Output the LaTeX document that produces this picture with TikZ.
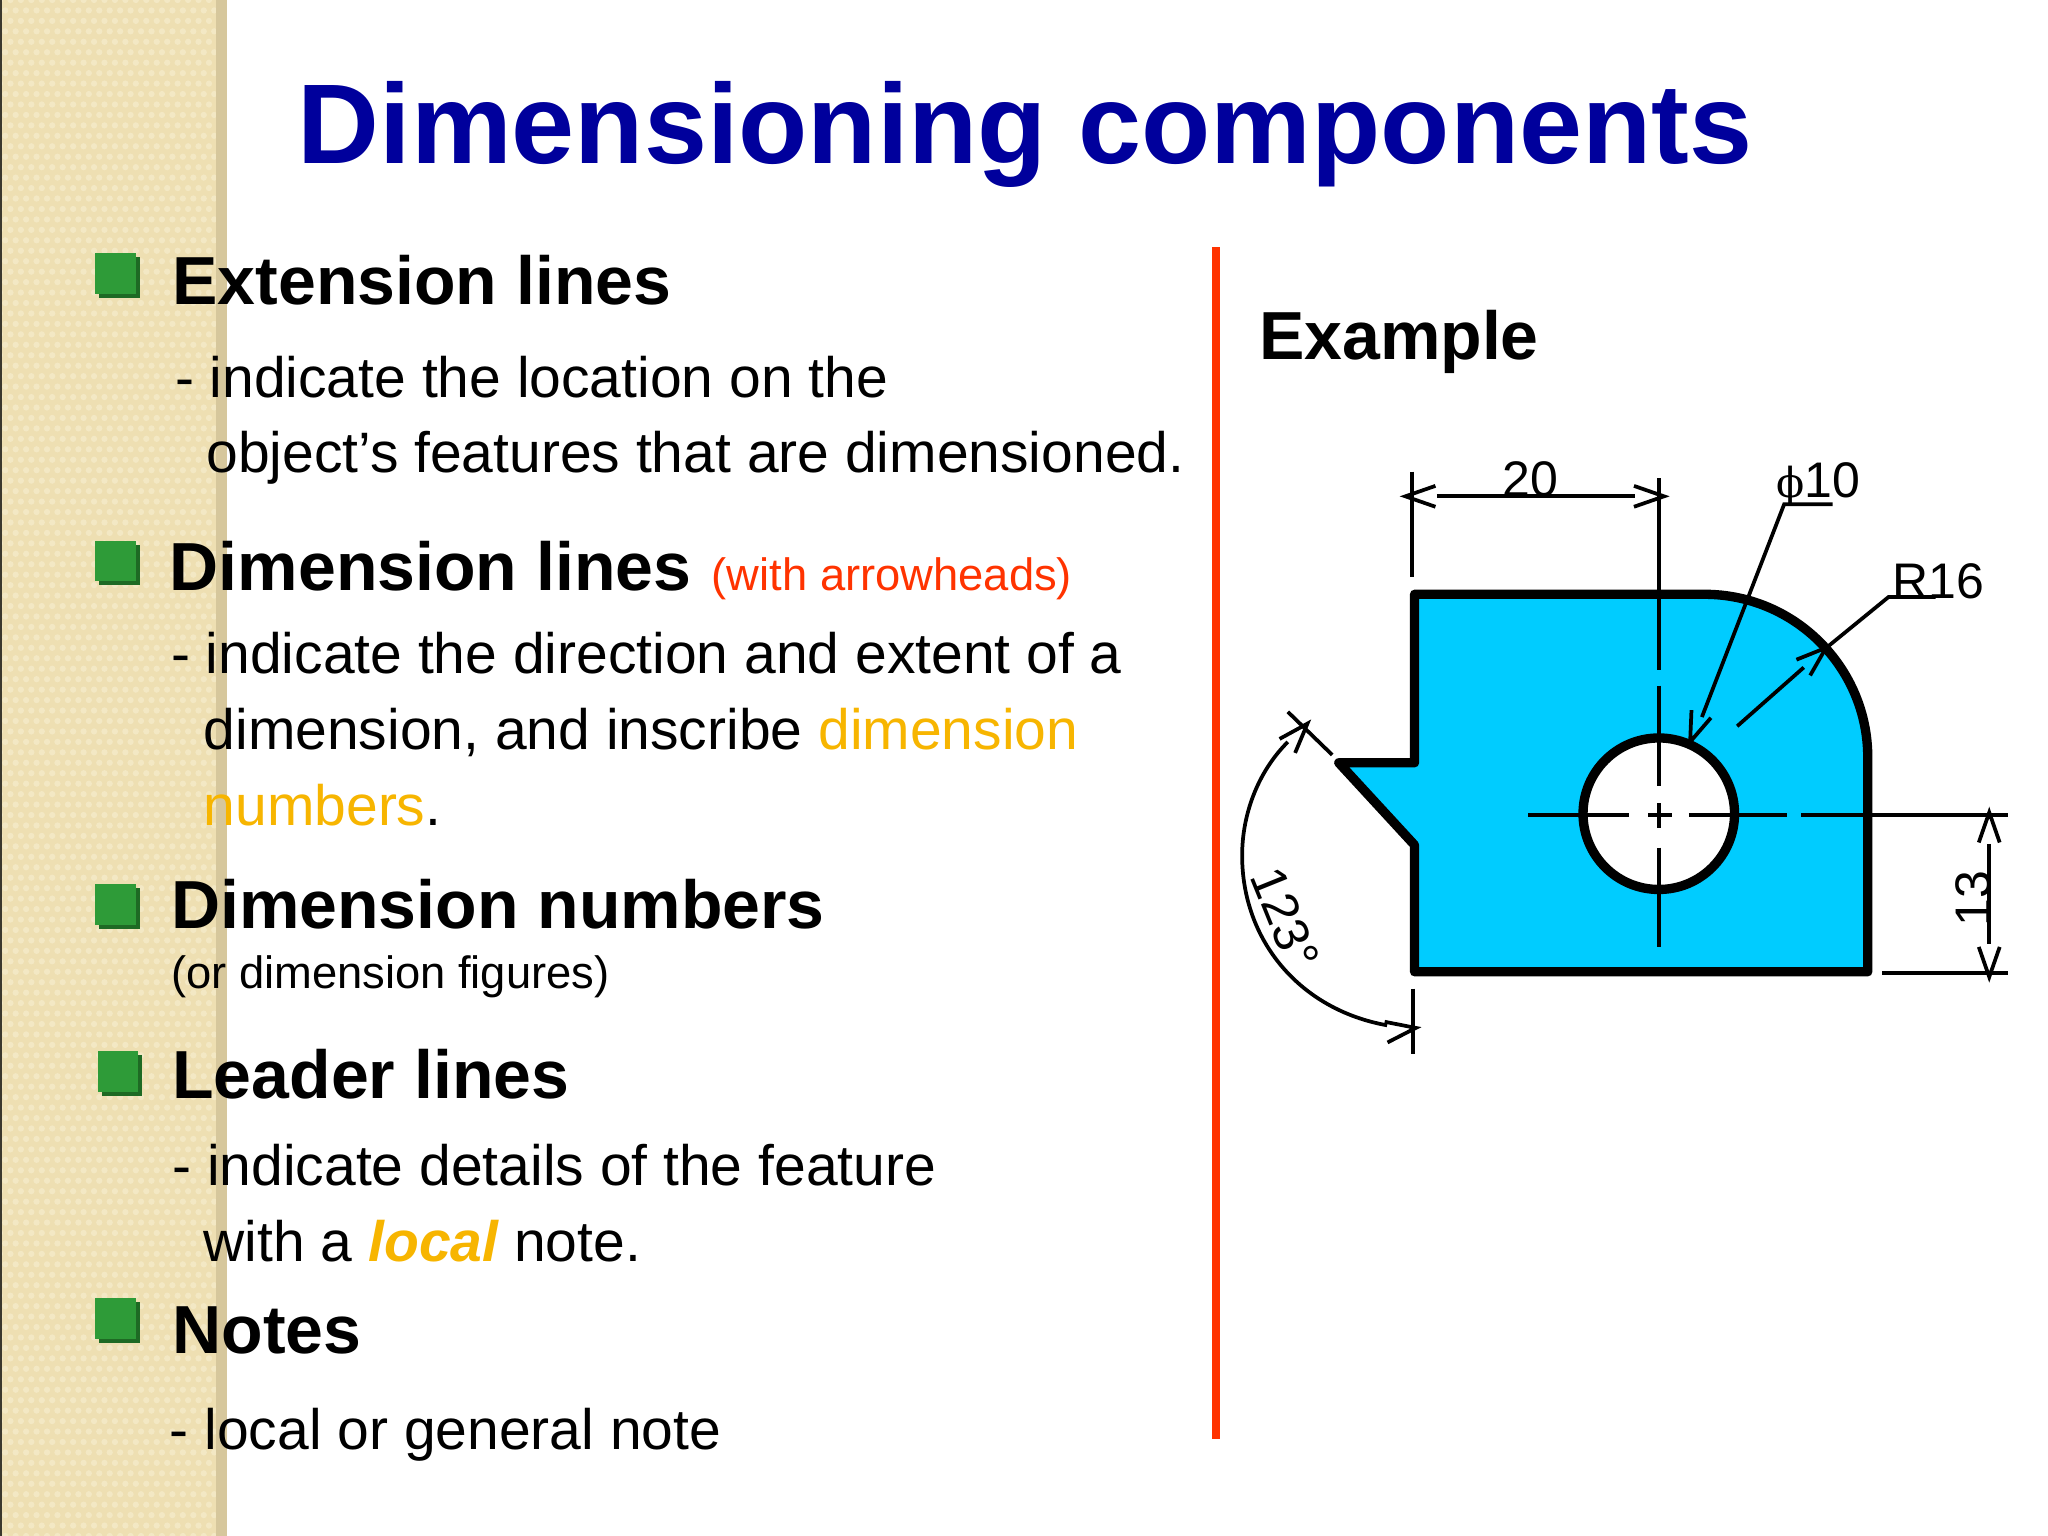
\documentclass[tikz,border=0pt]{standalone}
\usepackage{fontspec}
\setmainfont{Liberation Sans}
\definecolor{strip}{HTML}{EEDFB2}
\definecolor{stripdot}{HTML}{F3E8C4}
\definecolor{stripedge}{HTML}{D6C79C}
\definecolor{titleblue}{HTML}{00009C}
\definecolor{redline}{HTML}{FF3300}
\definecolor{amber}{HTML}{F7B500}
\definecolor{partblue}{HTML}{00CCFF}
\definecolor{bulletgreen}{HTML}{2E9B38}
\definecolor{bulletdark}{HTML}{1E6A24}
\newcommand{\headtxt}{\fontsize{51}{51}\selectfont\bfseries}
\newcommand{\bodytxt}{\fontsize{42.75}{43}\selectfont}
\newcommand{\smalltxt}{\fontsize{34}{35}\selectfont}
\newcommand{\dimtxt}{\fontsize{37.5}{38}\selectfont}
\newcommand{\barbs}[2]{\draw[dimline,shift={(#1)},rotate=#2] (-23,8) -- (0,0) -- (-23,-8);}
\newcommand{\gbullet}[2]{\fill[bulletdark] (#1+3,#2+3) rectangle (#1+34,#2+34);\fill[bulletgreen] (#1,#2) rectangle (#1+31,#2+31);}
\tikzset{
  txt/.style={anchor=base west,inner sep=0pt,outer sep=0pt,text=black},
  dimline/.style={draw=black,line width=2.8pt},
  centerline/.style={draw=black,line width=2.8pt},
  partedge/.style={draw=black,line width=7pt,line join=round,line cap=round}
}
\begin{document}
\begin{tikzpicture}[x=0.9796pt,y=-0.9796pt]
\useasboundingbox (0,0) rectangle (1568,1176);
\fill[white] (0,0) rectangle (1568,1176);
% left strip
\fill[strip] (0,0) rectangle (168,1176);
\begin{scope}
\clip (0,0) rectangle (168,1176);
\foreach \i in {0,...,21}{\foreach \j in {0,...,147}{
  \fill[stripdot] ({\i*8+mod(\j,2)*4},{\j*8}) circle (2.4);
}}
\end{scope}
\fill[stripedge] (165,0) rectangle (174,1176);
\fill[black!75!strip] (0,0) rectangle (1.6,1176);
% title
\node[txt,text=titleblue] (title) at (228,125) {\fontsize{85}{85}\selectfont\bfseries Dimensioning components};
% bullets
\gbullet{73}{194}
\gbullet{73}{414}
\gbullet{73}{677}
\gbullet{75}{805}
\gbullet{73}{994}
% left text
\node[txt] (h1) at (132,233) {\headtxt Extension lines};
\node[txt] (b1a) at (134,304) {\bodytxt - indicate the location on the};
\node[txt] (b1b) at (158,362) {\bodytxt object’s features that are dimensioned.};
\node[txt] (h2) at (130,452) {\headtxt Dimension lines};
\node[txt,text=redline] (h2n) at (545,452) {\smalltxt (with arrowheads)};
\node[txt] (b2a) at (131,516) {\bodytxt - indicate the direction and extent of a};
\node[txt] (b2b) at (156,574) {\bodytxt dimension, and inscribe \textcolor{amber}{dimension}};
\node[txt] (b2c) at (156,632) {\bodytxt \textcolor{amber}{numbers}.};
\node[txt] (h3) at (131,711) {\headtxt Dimension numbers};
\node[txt] (b3) at (131,757) {\smalltxt (or dimension figures)};
\node[txt] (h4) at (132,841) {\headtxt Leader lines};
\node[txt] (b4a) at (132,908) {\bodytxt - indicate details of the feature};
\node[txt] (b4b) at (156,966) {\bodytxt with a \textcolor{amber}{\bfseries\itshape local} note.};
\node[txt] (h5) at (132,1036) {\headtxt Notes};
\node[txt] (b5) at (130,1110) {\bodytxt - local or general note};
% divider
\fill[redline] (928,189) rectangle (934,1102);
\node[txt] (ex) at (964,275) {\headtxt Example};
% part
\path[partedge,fill=partblue] (1083,455) -- (1305,455) .. controls (1374,455) and (1430,511) .. (1430,580) -- (1430,744) -- (1083,744) -- (1083,647) -- (1025,584) -- (1083,584) -- cycle;
\path[draw=black,line width=7pt,fill=white] (1270,623) circle (58);
% centre lines
\draw[centerline] (1270,366) -- (1270,513);
\draw[centerline] (1270,525) -- (1270,602);
\draw[centerline] (1270,615) -- (1270,634);
\draw[centerline] (1270,649) -- (1270,725);
\draw[centerline] (1170,624) -- (1247,624);
\draw[centerline] (1262,624) -- (1280,624);
\draw[centerline] (1293,624) -- (1368,624);
\draw[centerline] (1379,624) -- (1537,624);
% extension lines
\draw[dimline] (1081,361) -- (1081,442);
\draw[dimline] (1441,745) -- (1537,745);
\draw[dimline] (1082,757) -- (1082,807);
\draw[dimline] (986,545) -- (1020,578);
% dim 20
\draw[dimline] (1100,380) -- (1252,380);
\barbs{1076,380}{180}
\barbs{1274,380}{0}
\node[anchor=base,inner sep=0pt] (d20) at (1172,380) {\dimtxt 20};
% dim 13
\draw[dimline] (1523,646) -- (1523,723);
\barbs{1523,622}{90}
\barbs{1523,748}{-90}
\node[anchor=base,inner sep=0pt,rotate=90] (d13) at (1524,688) {\dimtxt 13};
% leader phi10
\draw[dimline] (1403,386) -- (1366,386) -- (1303,549);
\barbs{1294,568}{-111.6}
\node[anchor=base west,inner sep=0pt] (dphi) at (1360,381) {\dimtxt\fontspec{DejaVu Serif}\fontsize{31}{31}\selectfont ϕ\fontspec{Liberation Sans}\fontsize{37.5}{38}\selectfont 10};
% leader R16
\draw[dimline] (1482,457) -- (1446,457) -- (1397,497);
\draw[dimline] (1330,556) -- (1381,511);
\barbs{1398,496}{41}
\node[anchor=base west,inner sep=0pt] (dR) at (1449,458) {\dimtxt R16};
% angle
\draw[dimline] (986,568) .. controls (962,592) and (951,625) .. (951,655) .. controls (951,720) and (995,773) .. (1062,785);
\barbs{1001,554}{48}
\barbs{1084,787}{8}
\node[inner sep=0pt,rotate=-68] (d123) at (984,703) {\dimtxt 123°};
\end{tikzpicture}
\end{document}
